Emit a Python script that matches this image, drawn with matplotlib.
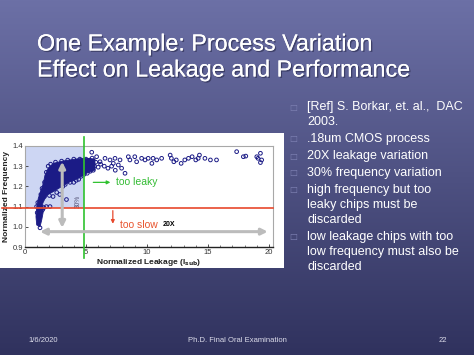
import numpy as np
import matplotlib
matplotlib.use('Agg')
import matplotlib.pyplot as plt
import matplotlib.patheffects as pe
from matplotlib.colors import to_rgb
from matplotlib.patches import Rectangle

plt.rcParams['font.family'] = ['Liberation Sans', 'DejaVu Sans']

# slide text
title_lines = ['One Example: Process Variation', 'Effect on Leakage and Performance']
bullets = [
    ['[Ref] S. Borkar, et. al.,  DAC', '2003.'],
    ['.18um CMOS process'],
    ['20X leakage variation'],
    ['30% frequency variation'],
    ['high frequency but too', 'leaky chips must be', 'discarded'],
    ['low leakage chips with too', 'low frequency must also be', 'discarded'],
]
footer_date = '1/6/2020'
footer_mid = 'Ph.D. Final Oral Examination'
footer_page = '22'

# dense core of the scatter (outline of the solid blob)
core_x = [0.96, 1.09, 1.28, 1.5, 1.64, 1.91, 2.32, 3.14, 4.24, 4.78, 5.74,
          5.74, 5.05, 4.37, 3.69, 3.0, 2.32, 1.78, 1.45, 1.5, 1.37, 1.23, 0.96, 0.9]
core_y = [1.1, 1.141, 1.174, 1.215, 1.256, 1.29, 1.314, 1.326, 1.336, 1.339, 1.336,
          1.281, 1.265, 1.24, 1.223, 1.199, 1.174, 1.157, 1.116, 1.075, 1.034, 1.0, 1.009, 1.05]

# individual chips (open circles)
chip_x = [1.3, 1.45, 1.6, 1.75, 2.0, 2.3, 2.6, 2.85, 3.4, 3.1, 3.3, 3.7, 4.0, 4.2,
          4.4, 4.6, 4.85, 5.1, 5.35, 5.6, 2.05, 1.75, 1.55, 1.45, 1.23, 1.1, 1.0,
          0.95, 1.05, 1.9, 2.1, 2.5, 3.0, 3.5, 4.0, 4.5, 5.0, 5.3, 5.5, 5.8, 6.2,
          6.5, 6.8, 7.1, 7.4, 6.0, 5.7, 1.6, 1.75, 1.4,
          5.47, 5.87, 6.15, 6.56, 6.97, 7.24, 7.65, 7.92, 8.2, 7.38, 7.79, 8.47,
          8.6, 9.0, 9.15, 9.56, 9.84, 10.1, 10.4, 10.5, 10.8, 11.2, 11.9, 12.0,
          12.2, 12.4, 12.8, 13.1, 13.4, 13.7, 14.0, 14.3, 14.2, 14.75, 15.2, 15.7,
          17.35, 17.9, 18.1, 19.0, 19.3, 19.4, 19.1, 19.3]
chip_y = [1.16, 1.175, 1.15, 1.17, 1.155, 1.15, 1.17, 1.16, 1.135, 1.2, 1.21, 1.22,
          1.22, 1.23, 1.235, 1.25, 1.26, 1.265, 1.275, 1.28, 1.1, 1.1, 1.095, 1.085,
          0.995, 1.05, 1.07, 1.1, 1.12, 1.3, 1.31, 1.32, 1.325, 1.33, 1.335, 1.335,
          1.335, 1.33, 1.34, 1.32, 1.31, 1.3, 1.29, 1.3, 1.28, 1.295, 1.3, 1.22,
          1.27, 1.19,
          1.369, 1.347, 1.322, 1.339, 1.331, 1.314, 1.306, 1.29, 1.265, 1.339, 1.331,
          1.347, 1.331, 1.347, 1.322, 1.339, 1.331, 1.339, 1.314, 1.339, 1.331,
          1.339, 1.355, 1.339, 1.322, 1.331, 1.314, 1.331, 1.339, 1.347, 1.331,
          1.355, 1.339, 1.339, 1.331, 1.331, 1.372, 1.347, 1.35, 1.347, 1.364,
          1.331, 1.339, 1.318]

freq_cut = 1.093
leak_cut = 4.84
x_ticks = [0, 5, 10, 15, 20]
y_ticks = [0.9, 1.0, 1.1, 1.2, 1.3, 1.4]

W, H = 474, 355
fig = plt.figure(figsize=(W / 100, H / 100), dpi=100)

# slide background
bg = fig.add_axes([0, 0, 1, 1])
top, bot = np.array(to_rgb('#6c70a6')), np.array(to_rgb('#30325e'))
t = np.linspace(0, 1, 256)[:, None, None]
grad = top * (1 - t) + bot * t
grad = np.repeat(grad, 2, axis=1)
bg.imshow(grad, aspect='auto', extent=[0, 1, 0, 1])
bg.set_xlim(0, 1)
bg.set_ylim(0, 1)
bg.axis('off')

shadow = [pe.withSimplePatchShadow(offset=(1, -1), shadow_rgbFace='#1c1d3a', alpha=0.5), pe.Normal()]
for i, line in enumerate(title_lines):
    fig.text(37 / W, 1 - (44 + i * 26) / H, line, color='white', fontsize=16.8,
             va='center', ha='left', path_effects=shadow)

# bullet list
y = 107
for b in bullets:
    fig.text(289 / W, 1 - y / H, '\u25a1', color='#7f82b4', fontsize=6, va='center', ha='left',
             family=['DejaVu Sans'])
    for k, line in enumerate(b):
        fig.text(307 / W, 1 - y / H, line, color='white', fontsize=9, va='center', ha='left')
        y += 15
    y += 2

for txt, xp, ha in [(footer_date, 28, 'left'), (footer_mid, 237, 'center'), (footer_page, 447, 'right')]:
    fig.text(xp / W, 1 - 340 / H, txt, color='#dcdcea', fontsize=5.5, ha=ha, va='center')

# white panel behind the chart
fig.patches.append(Rectangle((0, 1 - 268 / H), 284 / W, 135 / H, transform=fig.transFigure,
                             facecolor='white', edgecolor='none', zorder=1))

ax = fig.add_axes([25 / W, 1 - 247 / H, 248 / W, 101 / H])
ax.set_zorder(2)
ax.patch.set_alpha(0)
ax.set_xlim(0, 20.33)
ax.set_ylim(0.9, 1.4)

ax.add_patch(Rectangle((0, freq_cut), leak_cut, 1.4 - freq_cut, facecolor='#cdd6f3',
                       edgecolor='none', zorder=0))

navy = '#1b1b86'
ax.fill(core_x, core_y, color=navy, zorder=2, lw=0.6, ec=navy)
ax.scatter(chip_x, chip_y, s=7, facecolors='none', edgecolors=navy, linewidths=0.7, zorder=3)

# cut lines
ax.plot([-1.9, 20.33], [freq_cut, freq_cut], color='#e8482c', lw=1.2, clip_on=False, zorder=4)
ax.plot([leak_cut, leak_cut], [0.845, 1.445], color='#2fc22f', lw=1.2, clip_on=False, zorder=4)

# spread arrows
gray = '#bcbcbc'
ax.annotate('', xy=(3.05, 0.995), xytext=(3.05, 1.322),
            arrowprops=dict(arrowstyle='<|-|>', color=gray, lw=2.2, mutation_scale=9,
                            shrinkA=0, shrinkB=0), zorder=5)
ax.annotate('', xy=(19.9, 0.976), xytext=(1.23, 0.976),
            arrowprops=dict(arrowstyle='<|-|>', color=gray, lw=2.2, mutation_scale=9,
                            shrinkA=0, shrinkB=0), zorder=5)
ax.text(4.35, 1.125, '30%', rotation=90, fontsize=4.8, color='#555577', ha='center', va='center')

ax.annotate('', xy=(7.0, 1.22), xytext=(5.6, 1.22),
            arrowprops=dict(arrowstyle='-|>', color='#2fc22f', lw=0.9, mutation_scale=5,
                            shrinkA=0, shrinkB=0))
ax.text(7.5, 1.22, 'too leaky', color='#33bb33', fontsize=7.5, va='center', ha='left')
ax.annotate('', xy=(7.2, 1.015), xytext=(7.2, 1.08),
            arrowprops=dict(arrowstyle='-|>', color='#e8482c', lw=0.9, mutation_scale=5,
                            shrinkA=0, shrinkB=0))
ax.text(7.75, 1.01, 'too slow', color='#e8542e', fontsize=7.5, va='center', ha='left')
ax.text(11.3, 1.01, '20X', color='black', fontsize=5, fontweight='bold', va='center', ha='left')

ax.set_xticks(x_ticks)
ax.set_xticks(range(21), minor=True)
ax.set_yticks(y_ticks)
ax.set_yticklabels([f'{v:.1f}' for v in y_ticks])
ax.tick_params(direction='in', labelsize=5.5, colors='#333333', length=2.5, pad=1.5, width=0.6)
ax.tick_params(which='minor', direction='in', length=1.5, width=0.5, colors='#444444')
for side in ['top', 'right', 'left']:
    ax.spines[side].set_color('#a8a8a8')
    ax.spines[side].set_linewidth(0.8)
ax.spines['bottom'].set_color('#222222')
ax.spines['bottom'].set_linewidth(1.0)

ax.set_xlabel(r'Normalized Leakage (I$_{\mathbf{sub}}$)', fontsize=6, fontweight='bold',
              labelpad=1, color='#222222')
ax.set_ylabel('Normalized Frequency', fontsize=6, fontweight='bold', labelpad=2, color='#222222')

fig.savefig('out.png', dpi=100)
